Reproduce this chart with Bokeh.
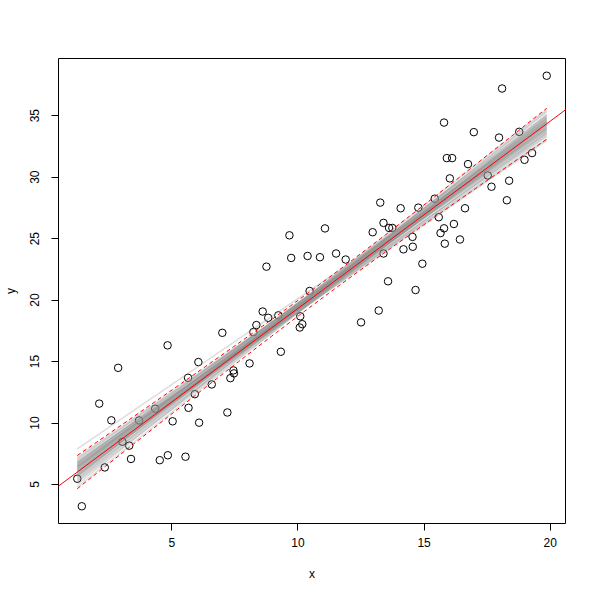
import numpy as np
from bokeh.plotting import figure
from bokeh.models import Range1d, FixedTicker, Slope
from bokeh.embed import file_html
from bokeh.resources import INLINE

x_vals = [1.25, 1.43, 2.12, 2.87, 2.60, 2.34, 3.04, 3.31, 3.38, 3.70,
          4.34, 4.83, 4.52, 4.84, 5.03, 5.54, 5.66, 5.64, 6.05, 5.91,
          6.08, 6.58, 7.00, 7.20, 7.32, 7.44, 7.46, 8.08, 8.23, 8.35,
          8.60, 8.82, 8.75, 9.32, 9.22, 10.09, 10.17, 10.07, 9.66, 9.73,
          10.38, 10.87, 11.51, 11.89, 10.46, 11.07, 12.50, 13.20, 12.96, 13.26,
          13.39, 13.57, 14.66, 14.93, 14.18, 14.55, 15.82, 16.42, 14.54, 15.65,
          15.79, 16.18, 13.39, 13.61, 13.74, 14.07, 14.77, 15.42, 15.58, 16.62,
          16.02, 15.90, 16.11, 16.74, 15.79, 16.97, 17.97, 18.77, 19.28, 18.98,
          17.52, 17.67, 18.37, 18.28, 18.09, 19.86]
y_vals = [5.47, 3.23, 11.58, 14.49, 10.22, 6.39, 8.48, 8.16, 7.08, 10.21,
          11.17, 16.32, 6.98, 7.38, 10.14, 7.26, 11.24, 13.68, 14.96, 12.35,
          10.03, 13.14, 17.34, 10.86, 13.65, 14.28, 14.04, 14.85, 17.40, 17.97,
          19.07, 18.56, 22.72, 15.80, 18.76, 18.68, 18.04, 17.77, 25.27, 23.43,
          23.59, 23.49, 23.79, 23.30, 20.74, 25.83, 18.19, 19.15, 25.52, 27.93,
          23.79, 21.53, 20.82, 22.96, 24.13, 24.34, 24.59, 24.93, 25.14, 25.45,
          25.84, 26.19, 26.28, 25.87, 25.87, 27.47, 27.52, 28.25, 26.74, 27.47,
          29.90, 31.55, 31.55, 31.06, 34.44, 33.66, 33.22, 33.69, 31.96, 31.41,
          30.14, 29.22, 29.71, 28.12, 37.21, 38.25]

# bootstrap regression lines: fitted value at min(x) and at max(x)
boot_left = [7.9, 7.1, 7.0, 6.8, 6.7, 6.6, 6.5, 6.4, 6.3, 6.2,
             6.1, 6.0, 5.9, 5.8, 5.7, 5.6, 5.4, 5.3, 5.0, 4.8,
             6.9, 6.4, 6.1, 6.55, 5.95, 6.75, 5.75, 6.35, 6.15, 6.65,
             5.5, 6.45, 5.85, 7.2, 5.2, 6.25, 6.8, 5.65, 6.5, 6.05]
boot_right = [33.9, 33.6, 34.0, 33.4, 34.5, 33.7, 34.1, 34.6, 33.9, 34.3,
              34.7, 34.2, 34.9, 34.4, 35.1, 34.6, 35.3, 34.8, 35.4, 35.0,
              33.1, 33.3, 33.6, 34.2, 34.5, 33.8, 34.8, 34.4, 34.0, 33.0,
              34.3, 34.8, 34.1, 33.8, 34.5, 35.0, 34.3, 35.5, 33.5, 34.65]

x = np.array(x_vals)
y = np.array(y_vals)
n = len(x)
slope, intercept = np.polyfit(x, y, 1)
resid = y - (intercept + slope * x)
s = np.sqrt(np.sum(resid ** 2) / (n - 2))
xbar = x.mean()
sxx = np.sum((x - xbar) ** 2)
xs = np.linspace(x.min(), x.max(), 100)
fit = intercept + slope * xs
se = s * np.sqrt(1.0 / n + (xs - xbar) ** 2 / sxx)
tq = 1.99
upper = fit + tq * se
lower = fit - tq * se

xr = x.max() - x.min()
yr = y.max() - y.min()

p = figure(width=587, height=587, output_backend="svg", toolbar_location=None,
           x_range=Range1d(x.min() - 0.04 * xr, x.max() + 0.04 * xr),
           y_range=Range1d(y.min() - 0.04 * yr, y.max() + 0.04 * yr),
           min_border_left=58, min_border_right=22, min_border_top=58, min_border_bottom=64,
           x_axis_label="x", y_axis_label="y")
p.background_fill_color = "white"
p.border_fill_color = "white"
p.outline_line_color = "black"
p.outline_line_width = 1
p.xgrid.visible = False
p.ygrid.visible = False

for ax in (p.xaxis[0], p.yaxis[0]):
    ax.axis_line_color = None
    ax.major_tick_line_color = "black"
    ax.major_tick_out = 7
    ax.major_tick_in = 0
    ax.minor_tick_line_color = None
    ax.major_label_text_font = "Liberation Sans"
    ax.major_label_text_font_size = "12px"
    ax.major_label_text_color = "black"
    ax.axis_label_text_font = "Liberation Sans"
    ax.axis_label_text_font_size = "12px"
    ax.axis_label_text_font_style = "normal"
    ax.axis_label_text_color = "black"

p.xaxis.ticker = FixedTicker(ticks=[5, 10, 15, 20])
p.yaxis.ticker = FixedTicker(ticks=[5, 10, 15, 20, 25, 30, 35])
p.xaxis.major_label_standoff = 7
p.xaxis.axis_label_standoff = 17
p.yaxis.major_label_orientation = "vertical"
p.yaxis.major_label_standoff = 12
p.yaxis.axis_label_standoff = 10

# points
p.scatter(x_vals, y_vals, marker="circle", size=7.5, fill_color=None,
          line_color="black", line_width=1)

# bootstrap lines
xl = float(x.min())
xh = float(x.max())
p.multi_line([[xl, xh] for _ in boot_left],
             [[a, b] for a, b in zip(boot_left, boot_right)],
             line_color="#909090", line_alpha=0.3, line_width=1.5)

# regression line across the whole plot
p.add_layout(Slope(gradient=slope, y_intercept=intercept, line_color="red", line_width=1))

# confidence band
p.line(xs, upper, line_color="red", line_dash="4 3", line_width=1)
p.line(xs, lower, line_color="red", line_dash="4 3", line_width=1)

open("out.html", "w").write(file_html(p, INLINE))
